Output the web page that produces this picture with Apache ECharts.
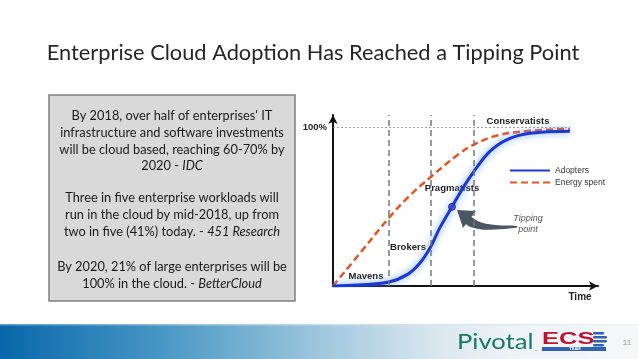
<!DOCTYPE html>
<html>
<head>
<meta charset="utf-8">
<script src="https://cdn.jsdelivr.net/npm/echarts@6/dist/echarts.min.js"></script>
<style>
html,body{margin:0;padding:0;background:#fff;}
#c{width:638px;height:359px;}
</style>
</head>
<body>
<div id="c"></div>
<script>
// ---- data ----
var adoptersTime = [0, 9.4, 21.1, 28.3, 32.8, 36.6, 40.4, 44.9, 48.7, 52.8, 59.2, 65.7, 74.3, 89.4];
var adopters     = [0, 0.6, 2.5, 7.5, 14.5, 24, 37, 50, 61, 71.5, 85, 92.5, 96.5, 97.8];
var energyTime   = [0, 11.3, 21.1, 28.3, 37, 47.2, 52.8, 61.9, 74.3, 89.4];
var energy       = [0, 23, 43, 56, 69, 83, 89, 95, 98, 99.2];
var phaseBounds  = [21, 37, 53];
var tippingPoint = [44.9, 50];
var yTickLabels  = {100: '100%'};
var seriesNames  = ['Adopters', 'Energy spent'];
var phaseLabels  = ['Mavens', 'Brokers', 'Pragmatists', 'Conservatists'];
var titleText    = 'Enterprise Cloud Adoption Has Reached a Tipping Point';
var boxLines = [
  ["By 2018, over half of enterprises' IT", 116],
  ['infrastructure and software investments', 133],
  ['will be cloud based, reaching 60-70% by', 150],
  ['2020 - {i|IDC}', 166],
  ['Three in five enterprise workloads will', 198],
  ['run in the cloud by mid-2018, up from', 215],
  ['two in five (41%) today. - {i|451 Research}', 232],
  ['By 2020, 21% of large enterprises will be', 267],
  ['100% in the cloud. - {i|BetterCloud}', 284]
];

function pairs(xs, ys){ var o=[]; for(var i=0;i<xs.length;i++) o.push([xs[i], ys[i]]); return o; }

var chart = echarts.init(document.getElementById('c'), null, {renderer:'canvas'});
var FF = '"Liberation Sans", Arial, sans-serif';
var BODY = 'Lato, "Open Sans", sans-serif';

var graphics = [
  // title
  {type:'text', x:313, y:53, style:{text:titleText, fill:'#262626', font:'21.8px ' + BODY, textAlign:'center', textVerticalAlign:'middle'}},
  // grey box
  {type:'rect', shape:{x:49, y:95, width:246, height:206}, style:{fill:'#d9d9d9', stroke:'#7f7f7f', lineWidth:1.5}},
  // bottom band
  {type:'rect', shape:{x:0, y:325, width:638, height:34}, style:{fill:new echarts.graphic.LinearGradient(0,0,1,0,[
      {offset:0, color:'#0867aa'},{offset:0.25, color:'#4796c4'},{offset:0.5, color:'#9ec6dd'},{offset:0.68, color:'#d9e7ef'},{offset:0.8, color:'#eef3f6'},{offset:1, color:'#f6f7f8'}])}},
  {type:'rect', shape:{x:0, y:324, width:638, height:1.5}, style:{fill:new echarts.graphic.LinearGradient(0,0,1,0,[
      {offset:0, color:'#5a9cc8'},{offset:0.5, color:'#c6dcea'},{offset:1, color:'#f0f2f3'}])}},
  // Pivotal logo text
  {type:'text', x:457, y:342, scaleX:1.22, style:{text:'Pivotal', fill:'#167a64', font:'21px ' + BODY, textVerticalAlign:'middle'}},
  {type:'text', x:535, y:349, style:{text:'.', fill:'#167a64', font:'8px ' + FF, textVerticalAlign:'middle'}},
  // ECS logo
  {type:'text', x:542, y:339, scaleX:1.5, style:{text:'ECS', fill:'#c0112e', font:'bold 17px ' + FF, textVerticalAlign:'middle'}},
  {type:'rect', shape:{x:593, y:332, width:11, height:2.4, r:1.2}, style:{fill:'#2f62b5'}},
  {type:'rect', shape:{x:593, y:336, width:14, height:2.4, r:1.2}, style:{fill:'#2f62b5'}},
  {type:'rect', shape:{x:593, y:340, width:14, height:2.4, r:1.2}, style:{fill:'#2f62b5'}},
  {type:'rect', shape:{x:593, y:344, width:11, height:2.4, r:1.2}, style:{fill:'#2f62b5'}},
  {type:'rect', shape:{x:542, y:347, width:64, height:4}, style:{fill:'#2f62b5'}},
  {type:'text', x:575, y:349, style:{text:'TEAM', fill:'#ffffff', font:'bold 4px ' + FF, textAlign:'center', textVerticalAlign:'middle'}},
  // page number
  {type:'text', x:627, y:343, style:{text:'11', fill:'#9a9a9a', font:'8px ' + FF, textAlign:'center', textVerticalAlign:'middle'}},
  // phase labels
  {type:'text', x:366, y:276, style:{text:phaseLabels[0], fill:'#222', font:'bold 9.5px ' + FF, textAlign:'center', textVerticalAlign:'middle'}},
  {type:'text', x:408, y:247, style:{text:phaseLabels[1], fill:'#222', font:'bold 9.5px ' + FF, textAlign:'center', textVerticalAlign:'middle'}},
  {type:'text', x:452, y:188, style:{text:phaseLabels[2], fill:'#222', font:'bold 9.5px ' + FF, textAlign:'center', textVerticalAlign:'middle'}},
  {type:'text', x:518, y:121, style:{text:phaseLabels[3], fill:'#222', font:'bold 9.5px ' + FF, textAlign:'center', textVerticalAlign:'middle'}},
  // Time label
  {type:'text', x:580, y:297, style:{text:'Time', fill:'#222', font:'bold 10px ' + FF, textAlign:'center', textVerticalAlign:'middle'}},
  // tipping point text
  {type:'text', x:528, y:218, style:{text:'Tipping', fill:'#555', font:'italic 9px ' + FF, textAlign:'center', textVerticalAlign:'middle'}},
  {type:'text', x:528, y:229, style:{text:'point', fill:'#555', font:'italic 9px ' + FF, textAlign:'center', textVerticalAlign:'middle'}},
  // curved arrow
  {type:'polygon', shape:{points:[[468,216],[480,222],[496,225],[517,226],[517,227.5],[496,229.5],[479,229],[466,224]], smooth:0.4}, style:{fill:'#4b5663'}},
  {type:'polygon', shape:{points:[[457,210],[476,211],[463,228]]}, style:{fill:'#4b5663'}}
];

boxLines.forEach(function(l){
  graphics.push({type:'text', x:172, y:l[1], style:{text:l[0], fill:'#1a1a1a', font:'12.8px ' + BODY, textAlign:'center', textVerticalAlign:'middle',
    rich:{i:{fontStyle:'italic', fontFamily:BODY, fontSize:12.8, fill:'#1a1a1a'}}}});
});

var option = {
  animation:false,
  backgroundColor:'#ffffff',
  textStyle:{fontFamily:FF},
  grid:{left:333, right:40, top:115, bottom:73, containLabel:false},
  xAxis:{type:'value', min:0, max:100,
    axisLine:{show:true, lineStyle:{color:'#111', width:2}, symbol:['none','arrow'], symbolSize:[7,9]},
    axisTick:{show:false}, axisLabel:{show:false}, splitLine:{show:false}},
  yAxis:{type:'value', min:0, max:108, interval:100,
    axisLine:{show:true, lineStyle:{color:'#111', width:2}, symbol:['none','arrow'], symbolSize:[7,9]},
    axisTick:{show:false}, splitLine:{show:false},
    axisLabel:{show:true, margin:6, color:'#222', fontWeight:'bold', fontSize:9.5, formatter:function(v){return yTickLabels[v] || '';}}},
  legend:{show:true, orient:'vertical', left:504, top:161, itemWidth:40, itemHeight:8, itemGap:3,
    itemStyle:{opacity:0},
    textStyle:{fontSize:8.5, color:'#333'}, data:seriesNames},
  graphic:graphics,
  series:[
    {name:seriesNames[1], type:'line', data:pairs(energyTime, energy), smooth:0.4, symbol:'none',
      lineStyle:{color:'#e85420', width:2.5, type:[7,4]}, itemStyle:{color:'#e85420'}, z:3,
      markLine:{silent:true, symbol:'none', label:{show:false},
        lineStyle:{color:'#777', type:[6,4], width:1.5},
        data:phaseBounds.map(function(v){return {xAxis:v};}).concat([[{coord:[0,100], lineStyle:{color:'#888', type:[2,2], width:0.8}},{coord:[adoptersTime[adoptersTime.length-1],100]}]])}},
    {name:seriesNames[0], type:'line', data:pairs(adoptersTime, adopters), smooth:0.4, symbol:'none',
      lineStyle:{color:'#1b37d6', width:3, shadowColor:'rgba(90,150,255,0.95)', shadowBlur:7}, itemStyle:{color:'#1b37d6'}, z:4},
    {name:'Tipping point', type:'scatter', data:[tippingPoint], symbolSize:7,
      itemStyle:{color:'#2c44d8', borderColor:'#14206e', borderWidth:1}, z:5}
  ]
};
chart.setOption(option);
</script>
</body>
</html>
